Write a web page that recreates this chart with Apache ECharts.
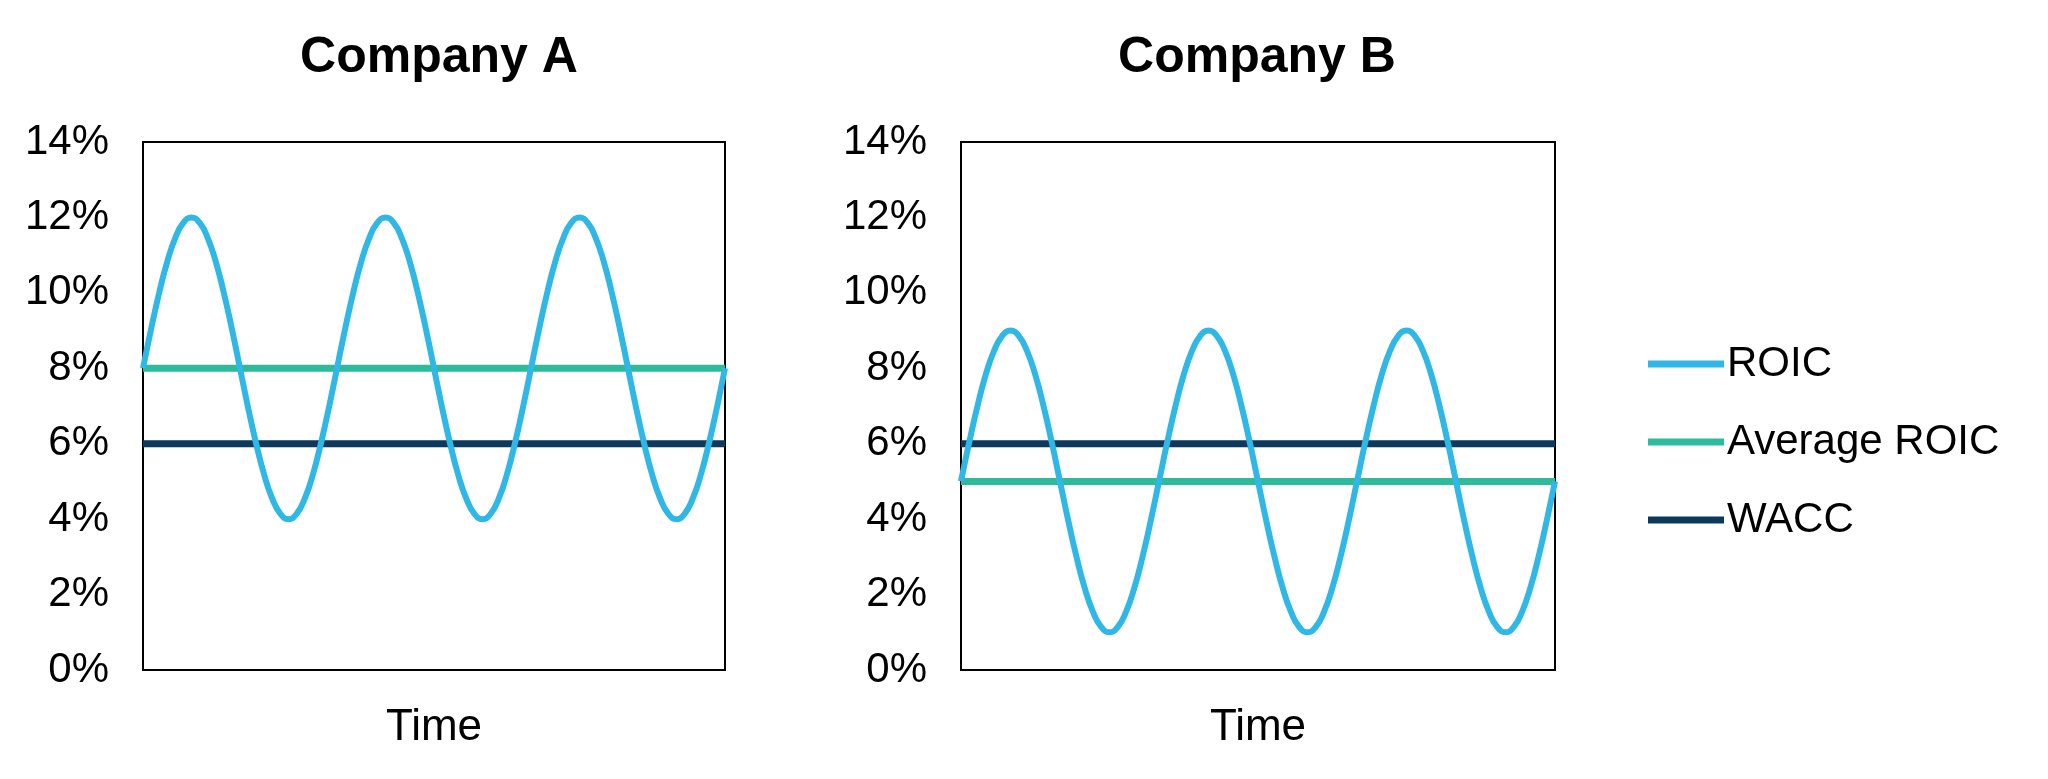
<!DOCTYPE html>
<html><head><meta charset="utf-8">
<script src="https://cdn.jsdelivr.net/npm/echarts@6/dist/echarts.min.js"></script>
<style>html,body{margin:0;padding:0;background:#fff}#c{width:2048px;height:779px}</style>
</head><body><div id="c"></div>
<script>
const categories = Array.from({length:73},(_,i)=>String(i));
const cycleA = [8,9.04,10,10.83,11.46,11.86,12,11.86,11.46,10.83,10,9.04,8,6.96,6,5.17,4.54,4.14,4,4.14,4.54,5.17,6,6.96];
const cycleB = [5,6.04,7,7.83,8.46,8.86,9,8.86,8.46,7.83,7,6.04,5,3.96,3,2.17,1.54,1.14,1,1.14,1.54,2.17,3,3.96];
const roicA = [...cycleA,...cycleA,...cycleA,8];
const roicB = [...cycleB,...cycleB,...cycleB,5];
const avgA = 8, waccA = 6, avgB = 5, waccB = 6;
const titles = ['Company A','Company B'];

const C = {roic:'#2FB8E5', avg:'#2DBB9C', wacc:'#0D3A5C'};
const font = 'Liberation Sans, sans-serif';
const grids = [{left:143,top:142,width:582,height:528},{left:961,top:142,width:594,height:528}];
function flat(v){return categories.map(()=>v);}
const option = {
  animation:false,
  title: titles.map((t,i)=>({text:t,left:(i?1252:434),top:28,textAlign:'center',textStyle:{fontSize:50,fontWeight:'bold',color:'#000',fontFamily:font}})),
  legend:{orient:'vertical',left:1643,top:338,itemWidth:76,itemHeight:7,itemGap:36,icon:'rect',
    textStyle:{fontSize:42,color:'#000',fontFamily:font,padding:[0,0,0,-2]},
    data:['ROIC','Average ROIC','WACC']},
  grid: grids.map(g=>Object.assign({show:true,borderColor:'#000',borderWidth:2},g)),
  xAxis:[0,1].map(i=>({type:'category',gridIndex:i,data:categories,boundaryGap:false,
    name:'Time',nameLocation:'middle',nameGap:36,nameTextStyle:{fontSize:44,color:'#000',fontFamily:font},
    axisLine:{lineStyle:{color:'#000',width:2}},axisTick:{show:false},axisLabel:{show:false},splitLine:{show:false}})),
  yAxis:[0,1].map(i=>({type:'value',gridIndex:i,min:0,max:14,interval:2,
    axisLine:{show:true,lineStyle:{color:'#000',width:2}},axisTick:{show:false},splitLine:{show:false},
    axisLabel:{formatter:v=>v+'%',fontSize:42,color:'#000',fontFamily:font,margin:34}})),
  series:[
    {name:'ROIC',type:'line',xAxisIndex:0,yAxisIndex:0,data:roicA,smooth:true,showSymbol:false,lineStyle:{width:6,color:C.roic},itemStyle:{color:C.roic},z:3},
    {name:'Average ROIC',type:'line',xAxisIndex:0,yAxisIndex:0,data:flat(avgA),showSymbol:false,lineStyle:{width:7,color:C.avg},itemStyle:{color:C.avg},z:2},
    {name:'WACC',type:'line',xAxisIndex:0,yAxisIndex:0,data:flat(waccA),showSymbol:false,lineStyle:{width:7,color:C.wacc},itemStyle:{color:C.wacc},z:2},
    {name:'ROIC',type:'line',xAxisIndex:1,yAxisIndex:1,data:roicB,smooth:true,showSymbol:false,lineStyle:{width:6,color:C.roic},itemStyle:{color:C.roic},z:3},
    {name:'Average ROIC',type:'line',xAxisIndex:1,yAxisIndex:1,data:flat(avgB),showSymbol:false,lineStyle:{width:7,color:C.avg},itemStyle:{color:C.avg},z:2},
    {name:'WACC',type:'line',xAxisIndex:1,yAxisIndex:1,data:flat(waccB),showSymbol:false,lineStyle:{width:7,color:C.wacc},itemStyle:{color:C.wacc},z:2}
  ]
};
echarts.init(document.getElementById('c')).setOption(option);
</script></body></html>
